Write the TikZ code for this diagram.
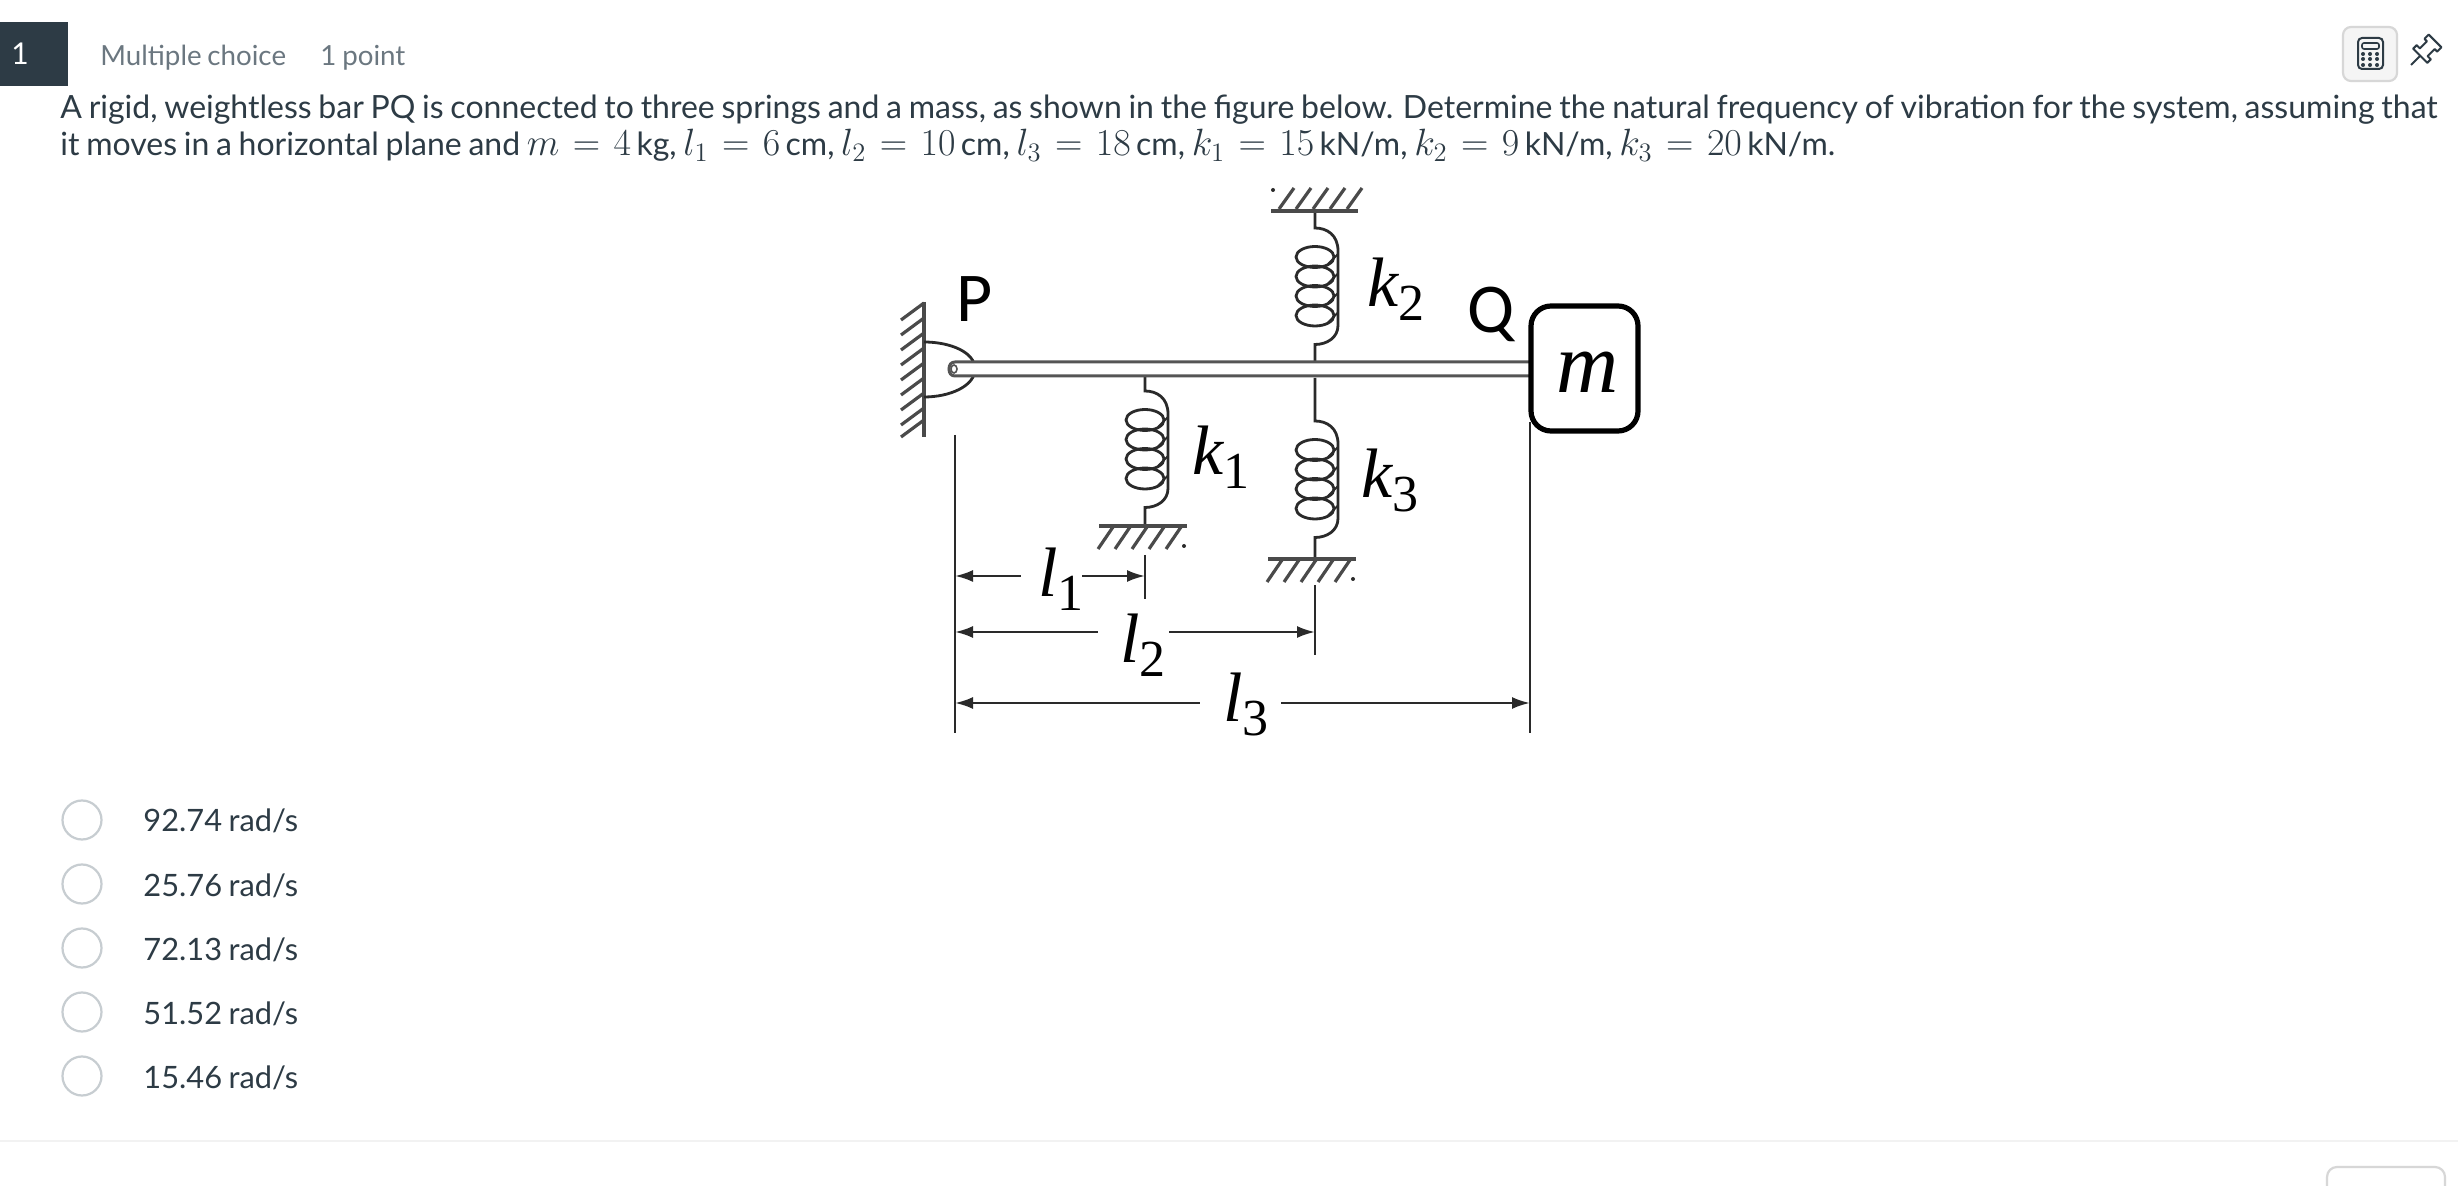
\RequirePackage{fix-cm}
\documentclass[tikz,border=0pt]{standalone}
\usepackage{amsmath}
\usepackage[no-math]{fontspec}
\setmainfont{Lato}[WordSpace=0.82]
\newfontfamily\labelfont{Carlito}
\newfontfamily\figfont{Liberation Serif}
\usetikzlibrary{arrows.meta}
\definecolor{ink}{HTML}{2D3B45}
\definecolor{mute}{HTML}{6B7780}
\definecolor{radio}{HTML}{C7CDD1}
\definecolor{edge}{HTML}{D7D7D7}
\definecolor{fig}{HTML}{2A2A2A}
\tikzset{
  txt/.style={anchor=base west,inner sep=0pt,text=ink,font=\fontsize{16}{20}\selectfont},
  opt/.style={anchor=base west,inner sep=0pt,text=ink,font=\fontsize{15.4}{20}\selectfont},
  head/.style={anchor=base west,inner sep=0pt,text=mute,font=\fontsize{13.85}{18}\selectfont},
  wire/.style={draw=fig,line width=1.4pt},
  thin wire/.style={draw=fig,line width=1pt},
  hatch/.style={draw=fig!85,line width=1.6pt},
  dimL/.style={draw=fig,line width=1.2pt,{Latex[length=9pt,width=6pt]}-},
  dimR/.style={draw=fig,line width=1.2pt,-{Latex[length=9pt,width=6pt]}},
  lab/.style={anchor=base west,inner sep=0pt,text=black,font=\figfont\fontsize{35}{35}\selectfont},
  ptq/.style={inner sep=0pt,text=black,font=\labelfont\fontsize{35}{35}\selectfont},
  radiobtn/.style={draw=radio,line width=1.1pt,fill=white},
}
\newcommand{\mth}[1]{{\fontsize{19}{20}\selectfont\thickmuskip=6.4mu$#1$}}
\newcommand{\figvar}[2]{{\itshape #1}\raisebox{-6.7pt}{\fontsize{26}{26}\selectfont #2}}
\newcommand{\coilspring}[4]{%
  \pgfmathsetmacro{\cA}{#3}\pgfmathsetmacro{\cB}{#3+19.5}\pgfmathsetmacro{\cC}{#3+39}\pgfmathsetmacro{\cD}{#3+58.5}
  \draw[wire] (#1,#2) -- (#1,#3-29) .. controls (#1+12,#3-29) and (#1+23,#3-22) .. (#1+23,#3-6)
     -- (#1+23,\cD+10) .. controls (#1+23,\cD+22) and (#1+12,\cD+29) .. (#1,\cD+29) -- (#1,#4);
  \foreach \cc in {\cA,\cB,\cC,\cD}{
    \draw[wire] (#1,\cc) ellipse [x radius=19,y radius=10.5];
    \draw[thin wire] (#1+13,\cc+7) -- (#1+23,\cc-3);
  }%
}
\newcommand{\groundbar}[2]{%
  \draw[hatch,line width=1.8pt] (#1-44,#2) -- (#1+44,#2);
  \foreach \dd in {-30,-13,4,21,38}{ \draw[hatch] (#1+\dd,#2+1) -- (#1+\dd-15,#2+23); }
  \fill[fig] (#1+41,#2+20) circle (2);
}
\begin{document}
\begin{tikzpicture}[x=0.5pt,y=-0.5pt]
\useasboundingbox (0,0) rectangle (2458,1186);
\fill[white] (0,0) rectangle (2458,1186);
% header
\fill[ink] (0,22) rectangle (68,86);
\node[anchor=base,inner sep=0pt,text=white,font=\fontsize{15}{18}\selectfont] (num) at (20,65) {1};
\node[head] (kind) at (100,66) {Multiple choice};
\node[head] (pts) at (320,66) {1 point};
% calculator button
\draw[edge,fill=gray!8,line width=1.1pt,rounded corners=4pt] (2343,27) rectangle (2397,81);
\draw[ink,line width=1pt,rounded corners=2pt] (2358,38) rectangle (2383,69);
\draw[ink,line width=.8pt,rounded corners=1pt] (2362,43) rectangle (2379,49);
\foreach \yy in {54,59,65}{\foreach \xx in {2363,2370,2377}{\fill[ink] (\xx,\yy) circle (2);}}
% pin
\begin{scope}[shift={(2411,65)},rotate=45]
\draw[ink,line width=1pt] (0,0) -- (13,0);
\draw[ink,line width=1pt,line join=round,fill=white] (13,-10) -- (18,-10) -- (18,-5.5) -- (28,-5.5) -- (28,-9) -- (34,-9) -- (34,9) -- (28,9) -- (28,5.5) -- (18,5.5) -- (18,10) -- (13,10) -- cycle;
\end{scope}
% question text
\node[txt] (q1) at (60,118.5) {A rigid, weightless bar PQ is connected to three springs and a mass, as shown in the figure below. Determine the natural frequency of vibration for the system, assuming that};
\node[txt] (q2) at (60,155.5) {it moves in a horizontal plane and \mth{m=4}\,kg, \mth{l_1=6}\,cm, \mth{l_2=10}\,cm, \mth{l_3=18}\,cm, \mth{k_1=15}\,kN/m, \mth{k_2=9}\,kN/m, \mth{k_3=20}\,kN/m.};
% options
\foreach \yy/\vv/\nm in {820/92.74/a,884/25.76/b,948/72.13/c,1012/51.52/d,1076/15.46/e}{
  \draw[radiobtn] (82,\yy) circle (19.5);
  \node[opt] (opt\nm) at (143,\yy+12) {\vv{} rad/s};
}
% footer
\draw[draw=gray!10,line width=.8pt] (0,1141) -- (2458,1141);
\draw[edge,line width=1.1pt,rounded corners=5pt] (2327,1190) -- (2327,1167) -- (2445,1167) -- (2445,1190);
% --- figure ---
\draw[hatch,line width=1.8pt] (924,302) -- (924,437);
\foreach \yy in {303,318,333,348,363,378,393,408,420}{ \draw[hatch] (924,\yy) -- (901,\yy+17); }
\draw[wire] (924,342) .. controls (950,342) and (975,352) .. (975,369) .. controls (975,386) and (950,397) .. (924,397);
\coilspring{1315}{211}{257}{362}
\coilspring{1145}{376}{420}{526}
\coilspring{1315}{378}{450}{559}
\draw[hatch,line width=1.8pt] (1271,211) -- (1358,211);
\foreach \dd in {1279,1296,1313,1330,1347}{ \draw[hatch] (\dd,209) -- (\dd+15,188); }
\fill[fig] (1273,190) circle (2);
\groundbar{1143}{526}
\groundbar{1312}{559}
\fill[white] (949,362) rectangle (1529,376);
\draw[draw=fig!80,line width=1.5pt,fill=white] (1529,362) -- (955,362) .. controls (951,362) and (949,365) .. (949,369) .. controls (949,373) and (951,376) .. (955,376) -- (1529,376);
\draw[draw=fig!80,line width=.8pt] (954,369) ellipse [x radius=3,y radius=4];
\draw[draw=black,line width=2.6pt,fill=white,rounded corners=10pt] (1531,306) rectangle (1638,431);
\node[lab,font=\figfont\fontsize{43}{43}\selectfont\itshape] (mm) at (1556,393) {m};
\node[ptq] (P) at (975,299) {P};
\node[ptq] (Q) at (1491,314) {Q};
\node[lab] (k2) at (1367,307) {\figvar{k}{2}};
\node[lab] (k1) at (1192,475) {\figvar{k}{1}};
\node[lab] (k3) at (1361,498) {\figvar{k}{3}};
\node[lab] (l1) at (1038,597) {\figvar{l}{1}};
\node[lab] (l2) at (1120,663) {\figvar{l}{2}};
\node[lab] (l3) at (1223,722) {\figvar{l}{3}};
\coordinate (dL) at (955,435);
\coordinate (dLb) at (955,733);
\coordinate (dR) at (1530,422);
\coordinate (dRb) at (1530,733);
\draw[thin wire] (dL) -- (dLb);
\draw[thin wire] (dR) -- (dRb);
\draw[thin wire] (1145,555) -- (1145,599);
\draw[thin wire] (1315,585) -- (1315,655);
\draw[dimL] (955,576) -- (1021,576);
\draw[dimR] (1082,576) -- (1145,576);
\draw[dimL] (955,632) -- (1098,632);
\draw[dimR] (1169,632) -- (1315,632);
\draw[dimL] (955,703) -- (1200,703);
\draw[dimR] (1281,703) -- (1530,703);
\end{tikzpicture}
\end{document}
